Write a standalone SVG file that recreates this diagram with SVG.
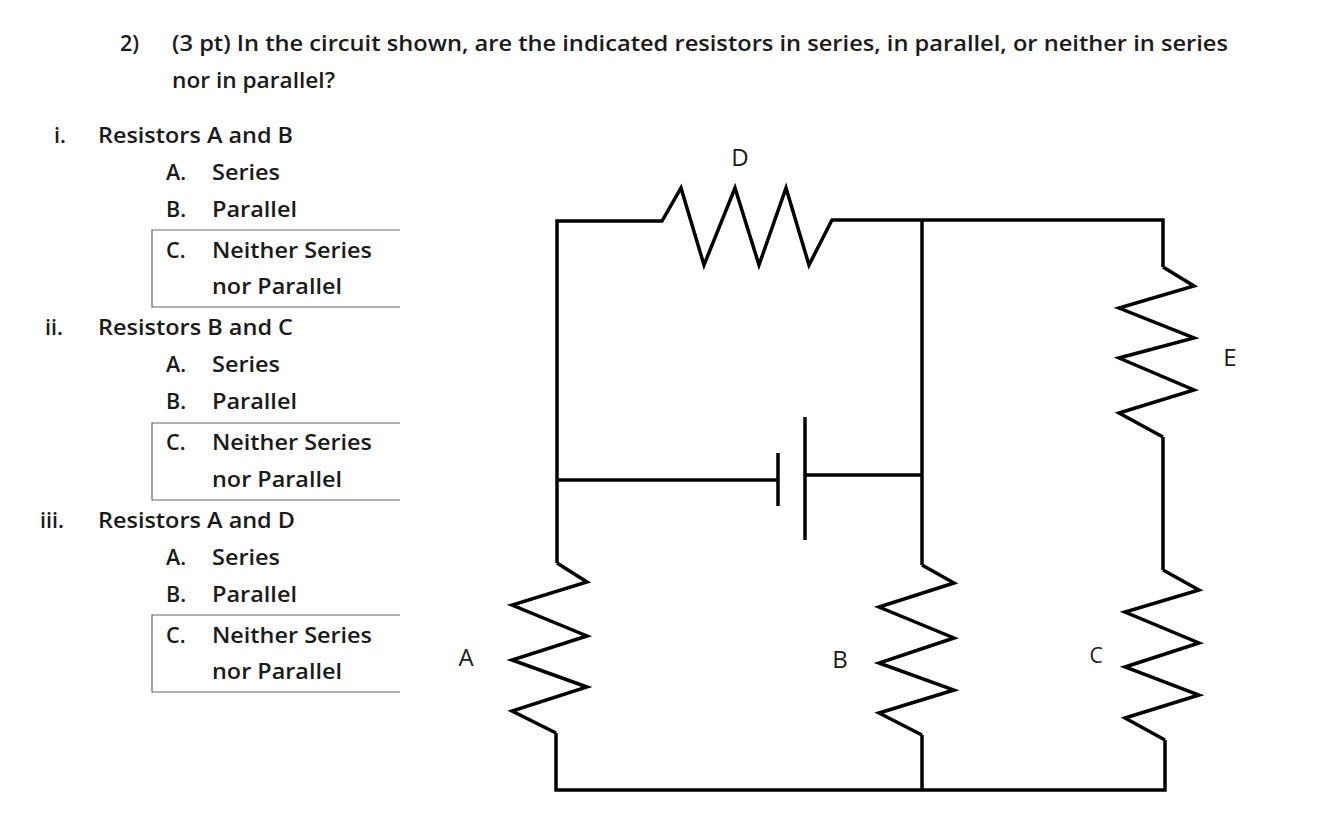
<svg xmlns="http://www.w3.org/2000/svg" width="1318" height="830" viewBox="0 0 1318 830">
<style>
text{font-family:"Open Sans","Liberation Sans",sans-serif;font-size:21.5px;font-weight:600;fill:#1a1a1a}
.l{font-weight:400;font-size:24px}
.w{fill:none;stroke:#000;stroke-width:3.5;stroke-linejoin:miter}
.b{fill:none;stroke:#666;stroke-width:1.2}
</style>
<rect width="1318" height="830" fill="#fff"/>
<g id="question">
<text x="120" y="51">2)</text>
<text x="172" y="51" textLength="1056" lengthAdjust="spacingAndGlyphs">(3 pt) In the circuit shown, are the indicated resistors in series, in parallel, or neither in series</text>
<text x="172" y="88" textLength="163" lengthAdjust="spacingAndGlyphs">nor in parallel?</text>
</g>
<g id="q1">
<text x="54" y="143">i.</text><text x="98" y="143" textLength="195" lengthAdjust="spacingAndGlyphs">Resistors A and B</text>
<text x="166" y="180">A.</text><text x="212" y="180" textLength="68" lengthAdjust="spacingAndGlyphs">Series</text>
<text x="166" y="217">B.</text><text x="212" y="217" textLength="85" lengthAdjust="spacingAndGlyphs">Parallel</text>
<path class="b" d="M400,230H152V307H400"/>
<text x="166" y="258">C.</text><text x="212" y="258" textLength="160" lengthAdjust="spacingAndGlyphs">Neither Series</text>
<text x="212" y="294" textLength="130" lengthAdjust="spacingAndGlyphs">nor Parallel</text>
</g>
<g id="q2">
<text x="45" y="335">ii.</text><text x="98" y="335" textLength="195" lengthAdjust="spacingAndGlyphs">Resistors B and C</text>
<text x="166" y="372">A.</text><text x="212" y="372" textLength="68" lengthAdjust="spacingAndGlyphs">Series</text>
<text x="166" y="409">B.</text><text x="212" y="409" textLength="85" lengthAdjust="spacingAndGlyphs">Parallel</text>
<path class="b" d="M400,423H152V500H400"/>
<text x="166" y="450">C.</text><text x="212" y="450" textLength="160" lengthAdjust="spacingAndGlyphs">Neither Series</text>
<text x="212" y="487" textLength="130" lengthAdjust="spacingAndGlyphs">nor Parallel</text>
</g>
<g id="q3">
<text x="40" y="528">iii.</text><text x="98" y="528" textLength="197" lengthAdjust="spacingAndGlyphs">Resistors A and D</text>
<text x="166" y="565">A.</text><text x="212" y="565" textLength="68" lengthAdjust="spacingAndGlyphs">Series</text>
<text x="166" y="602">B.</text><text x="212" y="602" textLength="85" lengthAdjust="spacingAndGlyphs">Parallel</text>
<path class="b" d="M400,615H152V692H400"/>
<text x="166" y="643">C.</text><text x="212" y="643" textLength="160" lengthAdjust="spacingAndGlyphs">Neither Series</text>
<text x="212" y="679" textLength="130" lengthAdjust="spacingAndGlyphs">nor Parallel</text>
</g>
<g id="connectors">
<path class="w" d="M557,480V221H662L681,188L704,265L735,188L759,265L786,188L809,265L832,220H1163V267"/>
<path class="w" d="M922,220V565"/>
<path class="w" d="M557,480V563"/>
<path class="w" d="M557,480H778"/>
<path class="w" d="M805,475H922"/>
<path class="w" d="M556,733V790H1165V740"/>
<path class="w" d="M922,735V790"/>
<path class="w" d="M1163,437V570"/>
</g>
<g id="resistor-D"><text class="l" x="740" y="166" text-anchor="middle">D</text></g>
<g id="resistor-E">
<path class="w" d="M1163,267L1194,286L1119,308L1194,338L1119,358L1194,390L1119,413L1163,437"/>
<text class="l" x="1230" y="366" text-anchor="middle">E</text>
</g>
<g id="battery">
<path class="w" d="M778,453V506M805,417V540"/>
</g>
<g id="resistor-A">
<path class="w" d="M557,563L587,582L512,605L587,636L512,660L587,687L512,711L556,733"/>
<text class="l" x="466" y="666" text-anchor="middle">A</text>
</g>
<g id="resistor-B">
<path class="w" d="M922,565L954,583L879,607L954,638L879,663L954,690L879,713L922,735"/>
<text class="l" x="840" y="668" text-anchor="middle">B</text>
</g>
<g id="resistor-C">
<path class="w" d="M1163,570L1199,590L1125,612L1199,643L1125,667L1199,695L1125,718L1165,740"/>
<text class="l" x="1096" y="663" text-anchor="middle" style="font-size:21px">C</text>
</g>
</svg>
